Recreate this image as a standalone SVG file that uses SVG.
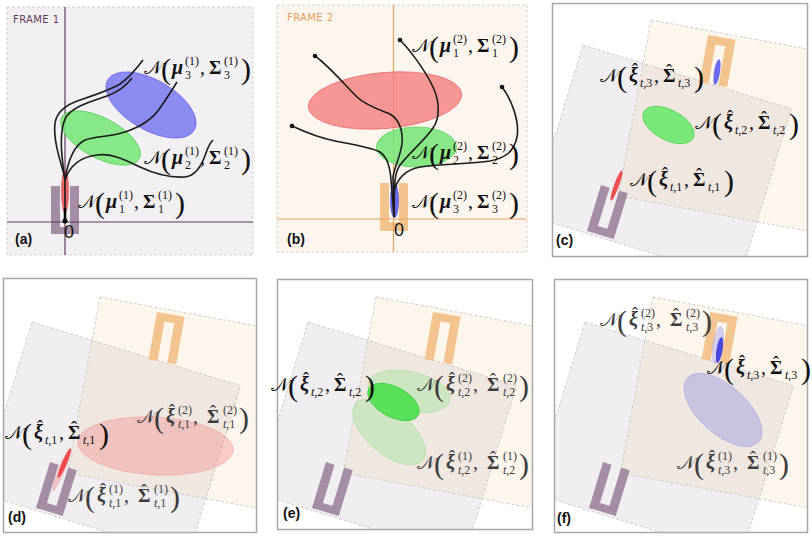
<svg xmlns="http://www.w3.org/2000/svg" width="812" height="536" viewBox="0 0 812 536">
<style>
text{font-family:"Liberation Serif","DejaVu Serif",serif;fill:#111}
.n{font-family:"DejaVu Sans","DejaVu Serif",serif;font-size:19px}
.p{font-size:30px}
.bi{font-weight:bold;font-style:italic;font-size:20px}
.bf{font-weight:bold;font-size:19px}
.s{font-size:12px}
.i{font-style:italic}
.c{font-size:20px}
.h{font-size:18px}
text.gr{fill:#3c3c3c}
.lab{font-family:"Liberation Sans",Arial,sans-serif;font-weight:bold;font-size:14px}
.zero{font-family:"Liberation Sans",Arial,sans-serif;font-size:18px}
.frm{font-family:"DejaVu Sans",sans-serif;font-size:10px;letter-spacing:0.4px}
.traj{fill:none;stroke:#1c1c1c;stroke-width:1.6}
.fr{stroke:#c6c6c6;stroke-width:0.8;stroke-dasharray:3 2}
.box{fill:none;stroke:#a8a8a8;stroke-width:1.5}
</style>
<defs>
<clipPath id="clipC"><rect x="552" y="3" width="256" height="254"/></clipPath>
<clipPath id="clipD"><rect x="3" y="278" width="254" height="255"/></clipPath>
<clipPath id="clipE"><rect x="277" y="279" width="256" height="251"/></clipPath>
<clipPath id="clipF"><rect x="554" y="279" width="254" height="254"/></clipPath>
<g id="frames">
<rect class="fr" x="0" y="0" width="218" height="179" fill="rgb(120,90,130)" fill-opacity="0.1" transform="translate(31,42) rotate(17)"/>
<rect class="fr" x="0" y="0" width="240" height="179" fill="rgb(240,180,110)" fill-opacity="0.12" transform="translate(99,17) rotate(10.5)"/>
<path d="M0,0 H9 V40 H19 V0 H28 V48 H0 Z" fill="#a58ea5" transform="translate(49,182) rotate(17)"/>
<path d="M0,0 H28 V48 H19 V8 H9 V48 H0 Z" fill="#f4c48e" transform="translate(156,32) rotate(10)"/>
</g>
</defs>

<!-- Panel (a) -->
<g id="panel-a">
<rect x="7" y="7" width="246" height="248" fill="#f3f0f3" class="fr"/>
<path d="M51,186 H60 V227 H70 V186 H79 V234 H51 Z" fill="#a58ea5"/>
<line x1="65" y1="7" x2="65" y2="255" stroke="#5e3a5a" stroke-width="1.2"/>
<line x1="7" y1="222" x2="253" y2="222" stroke="#5e3a5a" stroke-width="1.2"/>
<ellipse cx="151" cy="105" rx="50" ry="25" transform="rotate(30 151 105)" fill="#7f7ff2" fill-opacity="0.9" stroke="#6a6ae6" stroke-width="0.8"/>
<ellipse cx="100.5" cy="138" rx="44" ry="20" transform="rotate(28 100.5 138)" fill="#78e678" fill-opacity="0.88" stroke="#5cd05c" stroke-width="0.8"/>
<ellipse cx="65" cy="191.5" rx="4" ry="21.5" fill="#e85a5a" fill-opacity="0.9"/>
<text class="frm" x="13" y="23" style="fill:#5e3a5a">FRAME 1</text>
<text class="lab" x="15" y="244">(a)</text>
<text class="zero" x="64" y="238">0</text>
</g>

<!-- Panel (b) -->
<g id="panel-b">
<rect x="277" y="5" width="250" height="247" fill="#fdf6ee" class="fr"/>
<path d="M380,183 H389 V222 H399 V183 H408 V231 H380 Z" fill="#f4c48e"/>
<line x1="393.5" y1="5" x2="393.5" y2="252" stroke="#e4a45c" stroke-width="1.2"/>
<line x1="277" y1="219" x2="527" y2="219" stroke="#e4a45c" stroke-width="1.2"/>
<ellipse cx="385" cy="100.5" rx="77" ry="28" transform="rotate(-5 385 100.5)" fill="#f58585" fill-opacity="0.85" stroke="#e86a6a" stroke-width="0.8"/>
<ellipse cx="416.5" cy="147" rx="40" ry="20" fill="#78e678" fill-opacity="0.88" stroke="#5cd05c" stroke-width="0.8"/>
<ellipse cx="394.5" cy="200.5" rx="4.5" ry="17.5" fill="#5a5ae0" fill-opacity="0.9"/>
<text class="frm" x="287" y="21" style="fill:#e8a060">FRAME 2</text>
<text class="lab" x="287" y="244">(b)</text>
<text class="zero" x="394" y="236">0</text>
</g>

<!-- Panels (c)-(f) -->
<g id="panel-c">
<g clip-path="url(#clipC)"><use href="#frames" transform="translate(552,3)"/></g>
<ellipse cx="668.5" cy="125" rx="28" ry="15" transform="rotate(28 668.5 125)" fill="#78e878" stroke="#5cd05c" stroke-width="0.8"/>
<ellipse cx="717" cy="72" rx="3" ry="13" transform="rotate(9 717 72)" fill="#6a6aee"/>
<ellipse cx="616.5" cy="185.5" rx="2.5" ry="16" transform="rotate(20 616.5 185.5)" fill="#ee5050"/>
<rect class="box" x="552.5" y="3.5" width="255" height="253"/>
<text class="lab" x="556" y="245">(c)</text>
</g>
<g id="panel-d">
<g clip-path="url(#clipD)"><use href="#frames" transform="translate(1,280)"/></g>
<ellipse cx="155.5" cy="446" rx="78" ry="29" transform="rotate(3 155.5 446)" fill="rgb(240,120,120)" fill-opacity="0.33" stroke="rgb(230,100,100)" stroke-opacity="0.3" stroke-width="0.8"/>
<ellipse cx="61" cy="471" rx="3.5" ry="22" transform="rotate(22 61 471)" fill="#f08080" fill-opacity="0.4"/>
<ellipse cx="64.5" cy="463" rx="2.5" ry="16" transform="rotate(23 64.5 463)" fill="#ee4c4c"/>
<rect class="box" x="3.5" y="278.5" width="253" height="254"/>
<text class="lab" x="8" y="522">(d)</text>
</g>
<g id="panel-e">
<g clip-path="url(#clipE)"><use href="#frames" transform="translate(277,280)"/></g>
<ellipse cx="409" cy="391.5" rx="42" ry="20" transform="rotate(12 409 391.5)" fill="rgb(120,230,120)" fill-opacity="0.3" stroke="rgb(100,210,100)" stroke-opacity="0.3" stroke-width="0.8"/>
<ellipse cx="389" cy="432" rx="44" ry="22" transform="rotate(40 389 432)" fill="rgb(120,230,120)" fill-opacity="0.3" stroke="rgb(100,210,100)" stroke-opacity="0.3" stroke-width="0.8"/>
<ellipse cx="393.5" cy="402" rx="28" ry="15" transform="rotate(28 393.5 402)" fill="#58e058" stroke="#40c840" stroke-width="0.8"/>
<rect class="box" x="277.5" y="279.5" width="255" height="250"/>
<text class="lab" x="283" y="518">(e)</text>
</g>
<g id="panel-f">
<g clip-path="url(#clipF)"><use href="#frames" transform="translate(554,280)"/></g>
<ellipse cx="723" cy="410" rx="48" ry="24" transform="rotate(42 723 410)" fill="rgb(130,130,230)" fill-opacity="0.35" stroke="rgb(110,110,220)" stroke-opacity="0.3" stroke-width="0.8"/>
<ellipse cx="718" cy="345" rx="5.5" ry="19" transform="rotate(9 718 345)" fill="rgb(130,130,230)" fill-opacity="0.35"/>
<ellipse cx="719.5" cy="350" rx="3" ry="13" transform="rotate(9 719.5 350)" fill="#4848e0"/>
<rect class="box" x="554.5" y="279.5" width="253" height="253"/>
<text class="lab" x="557" y="523">(f)</text>
</g>

<!-- trajectories -->
<g id="connectors">
<path class="traj" d="M65,218 L65,178 C60,160 53,140 55,123 C57,110 68,104 80,100 C95,95 110,90 120,84 C130,77 137,68 143,60"/>
<path class="traj" d="M65,180 C62,160 58,132 66,117 C74,106 90,102 107,96 C118,92 126,86 132,78"/>
<path class="traj" d="M65,180 C68,160 75,145 85,140 C95,136 110,137 125,132 C140,127 152,120 160,108 C167,98 172,90 177,82"/>
<path class="traj" d="M65,180 C70,165 80,157 97,155 C112,153 125,160 140,167 C155,174 170,178 185,177 C195,176 202,165 206,153 C208,147 210,143 213,140"/>
<line x1="65" y1="208" x2="65" y2="221" stroke="#000" stroke-width="2.5"/>
<circle cx="65" cy="221" r="2.5" fill="#000"/>
<path class="traj" d="M315,56 C328,65 345,85 357,97 C365,105 380,110 390,114 C400,120 403,132 402,143 C401,155 395,165 393,177 L394,217"/>
<path class="traj" d="M292,126 C305,132 320,138 335,141 C350,144 370,147 380,152 C388,158 390,168 391,180 L394,217"/>
<path class="traj" d="M400,40 C410,50 425,70 433,87 C440,102 440,118 433,128 C425,140 410,152 400,165 C395,172 394,180 394,217"/>
<path class="traj" d="M502,87 C510,97 520,120 517,137 C514,152 505,158 490,161 C470,164 440,164 420,167 C405,170 397,178 394,192 L394,217"/>
<circle cx="315" cy="56" r="2.3" fill="#111"/>
<circle cx="292" cy="126" r="2.3" fill="#111"/>
<circle cx="400" cy="40" r="2.3" fill="#111"/>
<circle cx="502" cy="87" r="2.3" fill="#111"/>
</g>

<!-- labels (a), (b) -->
<text id="lbl-a3" transform="translate(144,74)"><tspan class="n" x="0" y="0">𝒩</tspan><tspan class="p" x="17" y="5">(</tspan><tspan class="bi" x="28" y="0">μ</tspan><tspan class="s" x="41" y="-9">(1)</tspan><tspan class="s" x="41" y="5">3</tspan><tspan class="c" x="56" y="0">,</tspan><tspan class="bf" x="65" y="0">Σ</tspan><tspan class="s" x="80" y="-9">(1)</tspan><tspan class="s" x="80" y="5">3</tspan><tspan class="p" x="97" y="5">)</tspan></text>
<text id="lbl-a2" transform="translate(144,164)"><tspan class="n" x="0" y="0">𝒩</tspan><tspan class="p" x="17" y="5">(</tspan><tspan class="bi" x="28" y="0">μ</tspan><tspan class="s" x="41" y="-9">(1)</tspan><tspan class="s" x="41" y="5">2</tspan><tspan class="c" x="56" y="0">,</tspan><tspan class="bf" x="65" y="0">Σ</tspan><tspan class="s" x="80" y="-9">(1)</tspan><tspan class="s" x="80" y="5">2</tspan><tspan class="p" x="97" y="5">)</tspan></text>
<text id="lbl-a1" transform="translate(78,208)"><tspan class="n" x="0" y="0">𝒩</tspan><tspan class="p" x="17" y="5">(</tspan><tspan class="bi" x="28" y="0">μ</tspan><tspan class="s" x="41" y="-9">(1)</tspan><tspan class="s" x="41" y="5">1</tspan><tspan class="c" x="56" y="0">,</tspan><tspan class="bf" x="65" y="0">Σ</tspan><tspan class="s" x="80" y="-9">(1)</tspan><tspan class="s" x="80" y="5">1</tspan><tspan class="p" x="97" y="5">)</tspan></text>
<text id="lbl-b1" transform="translate(412,52)"><tspan class="n" x="0" y="0">𝒩</tspan><tspan class="p" x="17" y="5">(</tspan><tspan class="bi" x="28" y="0">μ</tspan><tspan class="s" x="41" y="-9">(2)</tspan><tspan class="s" x="41" y="5">1</tspan><tspan class="c" x="56" y="0">,</tspan><tspan class="bf" x="65" y="0">Σ</tspan><tspan class="s" x="80" y="-9">(2)</tspan><tspan class="s" x="80" y="5">1</tspan><tspan class="p" x="97" y="5">)</tspan></text>
<text id="lbl-b2" transform="translate(412,159)"><tspan class="n" x="0" y="0">𝒩</tspan><tspan class="p" x="17" y="5">(</tspan><tspan class="bi" x="28" y="0">μ</tspan><tspan class="s" x="41" y="-9">(2)</tspan><tspan class="s" x="41" y="5">2</tspan><tspan class="c" x="56" y="0">,</tspan><tspan class="bf" x="65" y="0">Σ</tspan><tspan class="s" x="80" y="-9">(2)</tspan><tspan class="s" x="80" y="5">2</tspan><tspan class="p" x="97" y="5">)</tspan></text>
<text id="lbl-b3" transform="translate(412,208)"><tspan class="n" x="0" y="0">𝒩</tspan><tspan class="p" x="17" y="5">(</tspan><tspan class="bi" x="28" y="0">μ</tspan><tspan class="s" x="41" y="-9">(2)</tspan><tspan class="s" x="41" y="5">3</tspan><tspan class="c" x="56" y="0">,</tspan><tspan class="bf" x="65" y="0">Σ</tspan><tspan class="s" x="80" y="-9">(2)</tspan><tspan class="s" x="80" y="5">3</tspan><tspan class="p" x="97" y="5">)</tspan></text>

<!-- combined labels (black) -->
<text id="lbl-c3" transform="translate(600,82)"><tspan class="n" x="0" y="0">𝒩</tspan><tspan class="p" x="17" y="5">(</tspan><tspan class="bi" x="29" y="0">ξ</tspan><tspan class="h" x="32" y="-6">ˆ</tspan><tspan class="s" x="40" y="5"><tspan class="i">t</tspan>,3</tspan><tspan class="c" x="54" y="0">,</tspan><tspan class="bf" x="63" y="0">Σ</tspan><tspan class="h" x="66" y="-5">ˆ</tspan><tspan class="s" x="78" y="5"><tspan class="i">t</tspan>,3</tspan><tspan class="p" x="94" y="5">)</tspan></text>
<text id="lbl-c2" transform="translate(695,129)"><tspan class="n" x="0" y="0">𝒩</tspan><tspan class="p" x="17" y="5">(</tspan><tspan class="bi" x="29" y="0">ξ</tspan><tspan class="h" x="32" y="-6">ˆ</tspan><tspan class="s" x="40" y="5"><tspan class="i">t</tspan>,2</tspan><tspan class="c" x="54" y="0">,</tspan><tspan class="bf" x="63" y="0">Σ</tspan><tspan class="h" x="66" y="-5">ˆ</tspan><tspan class="s" x="78" y="5"><tspan class="i">t</tspan>,2</tspan><tspan class="p" x="94" y="5">)</tspan></text>
<text id="lbl-c1" transform="translate(630,186)"><tspan class="n" x="0" y="0">𝒩</tspan><tspan class="p" x="17" y="5">(</tspan><tspan class="bi" x="29" y="0">ξ</tspan><tspan class="h" x="32" y="-6">ˆ</tspan><tspan class="s" x="40" y="5"><tspan class="i">t</tspan>,1</tspan><tspan class="c" x="54" y="0">,</tspan><tspan class="bf" x="63" y="0">Σ</tspan><tspan class="h" x="66" y="-5">ˆ</tspan><tspan class="s" x="78" y="5"><tspan class="i">t</tspan>,1</tspan><tspan class="p" x="94" y="5">)</tspan></text>
<text id="lbl-d" transform="translate(5,439)"><tspan class="n" x="0" y="0">𝒩</tspan><tspan class="p" x="17" y="5">(</tspan><tspan class="bi" x="29" y="0">ξ</tspan><tspan class="h" x="32" y="-6">ˆ</tspan><tspan class="s" x="40" y="5"><tspan class="i">t</tspan>,1</tspan><tspan class="c" x="54" y="0">,</tspan><tspan class="bf" x="63" y="0">Σ</tspan><tspan class="h" x="66" y="-5">ˆ</tspan><tspan class="s" x="78" y="5"><tspan class="i">t</tspan>,1</tspan><tspan class="p" x="94" y="5">)</tspan></text>
<text id="lbl-e" transform="translate(271,391)"><tspan class="n" x="0" y="0">𝒩</tspan><tspan class="p" x="17" y="5">(</tspan><tspan class="bi" x="29" y="0">ξ</tspan><tspan class="h" x="32" y="-6">ˆ</tspan><tspan class="s" x="40" y="5"><tspan class="i">t</tspan>,2</tspan><tspan class="c" x="54" y="0">,</tspan><tspan class="bf" x="63" y="0">Σ</tspan><tspan class="h" x="66" y="-5">ˆ</tspan><tspan class="s" x="78" y="5"><tspan class="i">t</tspan>,2</tspan><tspan class="p" x="94" y="5">)</tspan></text>
<text id="lbl-f" transform="translate(707,374)"><tspan class="n" x="0" y="0">𝒩</tspan><tspan class="p" x="17" y="5">(</tspan><tspan class="bi" x="29" y="0">ξ</tspan><tspan class="h" x="32" y="-6">ˆ</tspan><tspan class="s" x="40" y="5"><tspan class="i">t</tspan>,3</tspan><tspan class="c" x="54" y="0">,</tspan><tspan class="bf" x="63" y="0">Σ</tspan><tspan class="h" x="66" y="-5">ˆ</tspan><tspan class="s" x="78" y="5"><tspan class="i">t</tspan>,3</tspan><tspan class="p" x="94" y="5">)</tspan></text>

<!-- per-frame labels (grey) -->
<text id="lbl-d2" class="gr" transform="translate(137,423)"><tspan class="n" x="0" y="0">𝒩</tspan><tspan class="p" x="17" y="5">(</tspan><tspan class="bi" x="29" y="0">ξ</tspan><tspan class="h" x="32" y="-6">ˆ</tspan><tspan class="s" x="41" y="-9">(2)</tspan><tspan class="s" x="41" y="5"><tspan class="i">t</tspan>,1</tspan><tspan class="c" x="56" y="0">,</tspan><tspan class="bf" x="70" y="0">Σ</tspan><tspan class="h" x="73" y="-5">ˆ</tspan><tspan class="s" x="86" y="-9">(2)</tspan><tspan class="s" x="86" y="5"><tspan class="i">t</tspan>,1</tspan><tspan class="p" x="102" y="5">)</tspan></text>
<text id="lbl-d1" class="gr" transform="translate(68,502)"><tspan class="n" x="0" y="0">𝒩</tspan><tspan class="p" x="17" y="5">(</tspan><tspan class="bi" x="29" y="0">ξ</tspan><tspan class="h" x="32" y="-6">ˆ</tspan><tspan class="s" x="41" y="-9">(1)</tspan><tspan class="s" x="41" y="5"><tspan class="i">t</tspan>,1</tspan><tspan class="c" x="56" y="0">,</tspan><tspan class="bf" x="70" y="0">Σ</tspan><tspan class="h" x="73" y="-5">ˆ</tspan><tspan class="s" x="86" y="-9">(1)</tspan><tspan class="s" x="86" y="5"><tspan class="i">t</tspan>,1</tspan><tspan class="p" x="102" y="5">)</tspan></text>
<text id="lbl-e2" class="gr" transform="translate(417,391)"><tspan class="n" x="0" y="0">𝒩</tspan><tspan class="p" x="17" y="5">(</tspan><tspan class="bi" x="29" y="0">ξ</tspan><tspan class="h" x="32" y="-6">ˆ</tspan><tspan class="s" x="41" y="-9">(2)</tspan><tspan class="s" x="41" y="5"><tspan class="i">t</tspan>,2</tspan><tspan class="c" x="56" y="0">,</tspan><tspan class="bf" x="70" y="0">Σ</tspan><tspan class="h" x="73" y="-5">ˆ</tspan><tspan class="s" x="86" y="-9">(2)</tspan><tspan class="s" x="86" y="5"><tspan class="i">t</tspan>,2</tspan><tspan class="p" x="102" y="5">)</tspan></text>
<text id="lbl-e1" class="gr" transform="translate(417,469)"><tspan class="n" x="0" y="0">𝒩</tspan><tspan class="p" x="17" y="5">(</tspan><tspan class="bi" x="29" y="0">ξ</tspan><tspan class="h" x="32" y="-6">ˆ</tspan><tspan class="s" x="41" y="-9">(1)</tspan><tspan class="s" x="41" y="5"><tspan class="i">t</tspan>,2</tspan><tspan class="c" x="56" y="0">,</tspan><tspan class="bf" x="70" y="0">Σ</tspan><tspan class="h" x="73" y="-5">ˆ</tspan><tspan class="s" x="86" y="-9">(1)</tspan><tspan class="s" x="86" y="5"><tspan class="i">t</tspan>,2</tspan><tspan class="p" x="102" y="5">)</tspan></text>
<text id="lbl-f2" class="gr" transform="translate(600,326)"><tspan class="n" x="0" y="0">𝒩</tspan><tspan class="p" x="17" y="5">(</tspan><tspan class="bi" x="29" y="0">ξ</tspan><tspan class="h" x="32" y="-6">ˆ</tspan><tspan class="s" x="41" y="-9">(2)</tspan><tspan class="s" x="41" y="5"><tspan class="i">t</tspan>,3</tspan><tspan class="c" x="56" y="0">,</tspan><tspan class="bf" x="70" y="0">Σ</tspan><tspan class="h" x="73" y="-5">ˆ</tspan><tspan class="s" x="86" y="-9">(2)</tspan><tspan class="s" x="86" y="5"><tspan class="i">t</tspan>,3</tspan><tspan class="p" x="102" y="5">)</tspan></text>
<text id="lbl-f1" class="gr" transform="translate(677,469)"><tspan class="n" x="0" y="0">𝒩</tspan><tspan class="p" x="17" y="5">(</tspan><tspan class="bi" x="29" y="0">ξ</tspan><tspan class="h" x="32" y="-6">ˆ</tspan><tspan class="s" x="41" y="-9">(1)</tspan><tspan class="s" x="41" y="5"><tspan class="i">t</tspan>,3</tspan><tspan class="c" x="56" y="0">,</tspan><tspan class="bf" x="70" y="0">Σ</tspan><tspan class="h" x="73" y="-5">ˆ</tspan><tspan class="s" x="86" y="-9">(1)</tspan><tspan class="s" x="86" y="5"><tspan class="i">t</tspan>,3</tspan><tspan class="p" x="102" y="5">)</tspan></text>
</svg>
